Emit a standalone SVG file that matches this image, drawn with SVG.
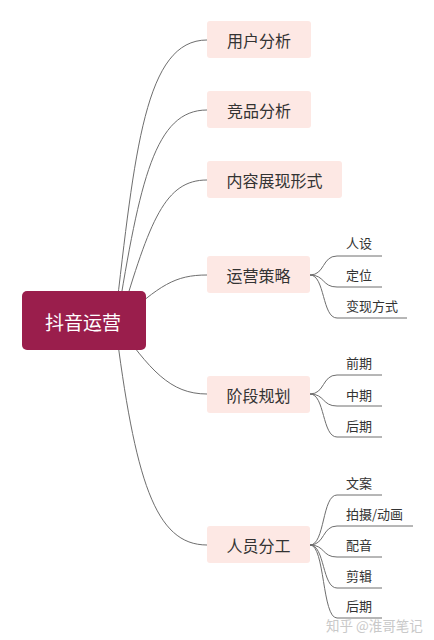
<svg xmlns="http://www.w3.org/2000/svg" width="434" height="640" viewBox="0 0 434 640">
<style>
.c{fill:none;stroke:#6e6e6e;stroke-width:1}
.n rect{fill:#fde8e4}
.t{font-family:"Noto Sans CJK SC","Noto Sans",sans-serif;fill:#333}
.b{font-size:16px;text-anchor:middle;dominant-baseline:central}
.s{font-size:13px}
.root{fill:#9a1e4c}
.rt{font-family:"Noto Sans CJK SC","Noto Sans",sans-serif;font-size:19px;fill:#fff;text-anchor:middle;dominant-baseline:central}
.wm{font-family:"Noto Sans CJK SC","Noto Sans",sans-serif;font-size:13.5px;fill:#c9c9c9}
</style>
<rect width="434" height="640" fill="#fff"/>
<g id="connectors">
<path class="c" d="M115,321 C135,150 145,40 207,40"/>
<path class="c" d="M117,321 C140,180 155,110 207,110"/>
<path class="c" d="M120,321 C150,220 165,180 207,180"/>
<path class="c" d="M120,321 C160,285 175,275 207,275"/>
<path class="c" d="M115,321 C150,370 170,394 207,394"/>
<path class="c" d="M115,321 C135,480 155,545 207,545"/>
<path class="c" d="M310,275 C325,275 322,256 337,256 L382,256"/>
<path class="c" d="M310,275 C325,275 322,287 337,287 L382,287"/>
<path class="c" d="M310,275 C325,275 322,318 337,318 L407,318"/>
<path class="c" d="M310,394 C325,394 322,375 337,375 L382,375"/>
<path class="c" d="M310,394 C325,394 322,406 337,406 L382,406"/>
<path class="c" d="M310,394 C325,394 322,437 337,437 L382,437"/>
<path class="c" d="M310,545 C325,545 322,495 337,495 L382,495"/>
<path class="c" d="M310,545 C325,545 322,526 337,526 L413,526"/>
<path class="c" d="M310,545 C325,545 322,557 337,557 L382,557"/>
<path class="c" d="M310,545 C325,545 322,588 337,588 L382,588"/>
<path class="c" d="M310,545 C325,545 322,618 337,618 L382,618"/>
</g>
<g id="root">
<rect class="root" x="22" y="291" width="124" height="59" rx="5"/>
<text class="rt" x="83" y="321">抖音运营</text>
</g>
<g id="n1" class="n"><rect x="207" y="21" width="104" height="37" rx="3"/><text class="t b" x="259" y="39.5">用户分析</text></g>
<g id="n2" class="n"><rect x="207" y="91" width="104" height="37" rx="3"/><text class="t b" x="259" y="109.5">竞品分析</text></g>
<g id="n3" class="n"><rect x="207" y="161" width="135" height="37" rx="3"/><text class="t b" x="274.5" y="179.5">内容展现形式</text></g>
<g id="n4" class="n"><rect x="207" y="256" width="103" height="37" rx="3"/><text class="t b" x="258.5" y="274.5">运营策略</text></g>
<g id="n5" class="n"><rect x="207" y="376" width="103" height="37" rx="3"/><text class="t b" x="258.5" y="394.5">阶段规划</text></g>
<g id="n6" class="n"><rect x="207" y="526" width="103" height="37" rx="3"/><text class="t b" x="258.5" y="544.5">人员分工</text></g>
<g id="s1"><text class="t s" x="346" y="248">人设</text></g>
<g id="s2"><text class="t s" x="346" y="280">定位</text></g>
<g id="s3"><text class="t s" x="346" y="311">变现方式</text></g>
<g id="s4"><text class="t s" x="346" y="368">前期</text></g>
<g id="s5"><text class="t s" x="346" y="400">中期</text></g>
<g id="s6"><text class="t s" x="346" y="431">后期</text></g>
<g id="s7"><text class="t s" x="346" y="488">文案</text></g>
<g id="s8"><text class="t s" x="346" y="519">拍摄/动画</text></g>
<g id="s9"><text class="t s" x="346" y="550">配音</text></g>
<g id="s10"><text class="t s" x="346" y="581">剪辑</text></g>
<g id="s11"><text class="t s" x="346" y="611">后期</text></g>
<text class="wm" x="326" y="631">知乎 @淮哥笔记</text>
</svg>
